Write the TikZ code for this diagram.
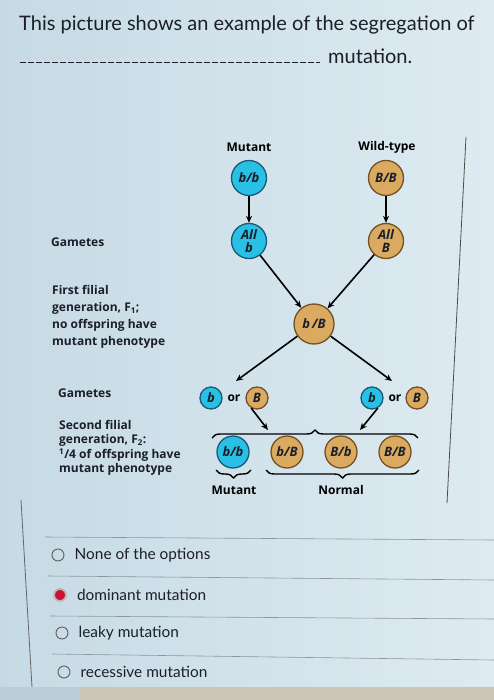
\documentclass[tikz,border=0pt]{standalone}
\usepackage{fontspec}
\setmainfont{Lato}
\newfontfamily\diagfont{Open Sans}
\usetikzlibrary{arrows.meta, positioning, calc, decorations.pathreplacing}

\definecolor{bgleft}{RGB}{198,218,229}
\definecolor{bgright}{RGB}{222,235,241}
\definecolor{mutblue}{RGB}{40,192,228}
\definecolor{mutedge}{RGB}{28,88,120}
\definecolor{wildtan}{RGB}{218,170,96}
\definecolor{wildedge}{RGB}{118,80,36}
\definecolor{inktext}{RGB}{28,30,40}
\definecolor{rulegray}{RGB}{140,150,156}
\definecolor{pickred}{RGB}{206,18,52}
\definecolor{barbeige}{RGB}{204,198,182}
\definecolor{barblue}{RGB}{186,206,216}

\newcommand{\titlefont}{\fontsize{20}{23}\selectfont}
\newcommand{\optfont}{\fontsize{15.4}{18}\selectfont}
\newcommand{\headfont}{\diagfont\bfseries\fontsize{12}{14}\selectfont}
\newcommand{\lblfont}{\diagfont\bfseries\fontsize{12}{17}\selectfont}
\newcommand{\smlblfont}{\diagfont\bfseries\fontsize{12}{14.5}\selectfont}
\newcommand{\cellfont}{\diagfont\bfseries\itshape\fontsize{13}{13.5}\selectfont}

\tikzset{
  allele/.style={circle, draw, line width=1.3pt, inner sep=0pt, text=inktext, font=\cellfont},
  mut/.style={allele, fill=mutblue, draw=mutedge},
  wild/.style={allele, fill=wildtan, draw=wildedge},
  cross/.style={-{Stealth[length=7pt, width=6pt]}, line width=1.6pt, black},
  lbl/.style={font=\lblfont, align=left, anchor=north west, text=inktext, inner sep=0pt},
  brcup/.style={decorate, decoration={brace, amplitude=8pt}, line width=1.4pt},
  brcdown/.style={decorate, decoration={brace, mirror, amplitude=8pt}, line width=1.4pt},
  radio/.style={circle, draw=gray!75!black, line width=0.9pt, minimum size=12pt, inner sep=0pt},
  opt/.style={font=\optfont, text=inktext, anchor=west, inner sep=0pt},
  rule/.style={draw=rulegray, line width=0.6pt}
}

\begin{document}
\begin{tikzpicture}[x=1pt, y=-1pt]
  % screen background
  \shade[left color=bgleft, right color=bgright] (0,0) rectangle (494,700);
  \useasboundingbox (0,0) rectangle (494,700);

  % question
  \node[anchor=base west, font=\titlefont, inner sep=0pt, text=inktext] (qline1) at (19,31)
    {This picture shows an example of the segregation of};
  \coordinate (blankL) at (20,63);
  \coordinate (blankR) at (320,63);
  \draw[dash pattern=on 6pt off 2pt, line width=1pt, inktext] (blankL) -- (blankR);
  \node[anchor=base west, font=\titlefont, inner sep=0pt, text=inktext] (qline2) at (328,64) {mutation.};

  % parents and first cross
  \node[font=\headfont] (hmut) at (249,147) {Mutant};
  \node[font=\headfont] (hwild) at (387,147) {Wild-type};
  \node[mut, minimum size=35pt] (pbb) at (249,178) {b/b};
  \node[wild, minimum size=35pt] (pBB) at (386,178) {B/B};
  \node[mut, minimum size=35pt, align=center] (gb) at (249,241) {All\\b};
  \node[wild, minimum size=35pt, align=center] (gB) at (386,241) {All\\B};
  \node[wild, minimum size=40pt] (f1) at (314,324) {b\,/B};
  \draw[cross] (pbb) -- (gb);
  \draw[cross] (pBB) -- (gB);
  \draw[cross] (gb) -- (f1);
  \draw[cross] (gB) -- (f1);

  % gametes of F1
  \node[mut, minimum size=22pt] (gb1) at (211,398) {b};
  \node[font=\headfont] (or1) at (234,398) {or};
  \node[wild, minimum size=22pt] (gB1) at (257,398) {B};
  \node[mut, minimum size=22pt] (gb2) at (372,398) {b};
  \node[font=\headfont] (or2) at (395,398) {or};
  \node[wild, minimum size=22pt] (gB2) at (417,398) {B};
  \coordinate (f1l) at (236,381);
  \coordinate (f1r) at (392,381);
  \draw[cross] (f1) -- (f1l);
  \draw[cross] (f1) -- (f1r);

  % second filial generation
  \node[mut, minimum size=32pt] (c1) at (233,452) {b/b};
  \node[wild, minimum size=32pt] (c2) at (287,452) {b/B};
  \node[wild, minimum size=32pt] (c3) at (341,452) {B/b};
  \node[wild, minimum size=32pt] (c4) at (395,452) {B/B};
  \coordinate (tbL) at (212,438);
  \coordinate (tbR) at (418,438);
  \draw[brcup] (tbL) -- (tbR);
  \coordinate (hitL) at (268,430);
  \coordinate (hitR) at (360,430);
  \draw[cross] (gB1.240) -- (hitL);
  \draw[cross] (gb2.300) -- (hitR);
  \coordinate (mbL) at (216,470);
  \coordinate (mbR) at (251,470);
  \coordinate (nbL) at (266,470);
  \coordinate (nbR) at (419,470);
  \draw[brcdown] (mbL) -- (mbR);
  \draw[brcdown] (nbL) -- (nbR);
  \node[font=\headfont] (lmut) at (234,490) {Mutant};
  \node[font=\headfont] (lnorm) at (341,490) {Normal};

  % row labels
  \node[lbl, anchor=west] (lgam1) at (51,242) {Gametes};
  \node[lbl] (lf1) at (52,285) {First filial\\generation, F\textsubscript{1};\\no offspring have\\mutant phenotype};
  \node[lbl, font=\smlblfont, anchor=west] (lgam2) at (58,393) {Gametes};
  \node[lbl, font=\smlblfont] (lf2) at (59,420)
    {Second filial\\generation, F\textsubscript{2}:\\\textsuperscript{1}/4 of offspring have\\mutant phenotype};

  % frame lines of the screen
  \coordinate (vrT) at (466,137);
  \coordinate (vrB) at (447,503);
  \draw[line width=0.8pt, black!70] (vrT) -- (vrB);
  \coordinate (vlT) at (21,500);
  \coordinate (vlB) at (32,687);
  \draw[line width=0.8pt, black!60] (vlT) -- (vlB);

  % answer options
  \draw[rule] (45,537) -- (494,540);
  \draw[rule] (48,576) -- (494,580);
  \draw[rule] (50,616) -- (494,619);
  \draw[rule] (52,654) -- (494,660);
  \node[radio] (r1) at (58,555) {};
  \node[opt, right=10pt of r1] (t1) {None of the options};
  \node[radio, fill=pickred, draw=gray!55, line width=1.8pt] (r2) at (60,595) {};
  \node[opt, right=10pt of r2] (t2) {dominant mutation};
  \node[radio] (r3) at (62,633) {};
  \node[opt, right=10pt of r3] (t3) {leaky mutation};
  \node[radio] (r4) at (64,672) {};
  \node[opt, right=10pt of r4] (t4) {recessive mutation};

  % task bar
  \fill[barbeige] (0,687) rectangle (494,700);
  \fill[barblue] (0,687) rectangle (80,700);
\end{tikzpicture}
\end{document}
